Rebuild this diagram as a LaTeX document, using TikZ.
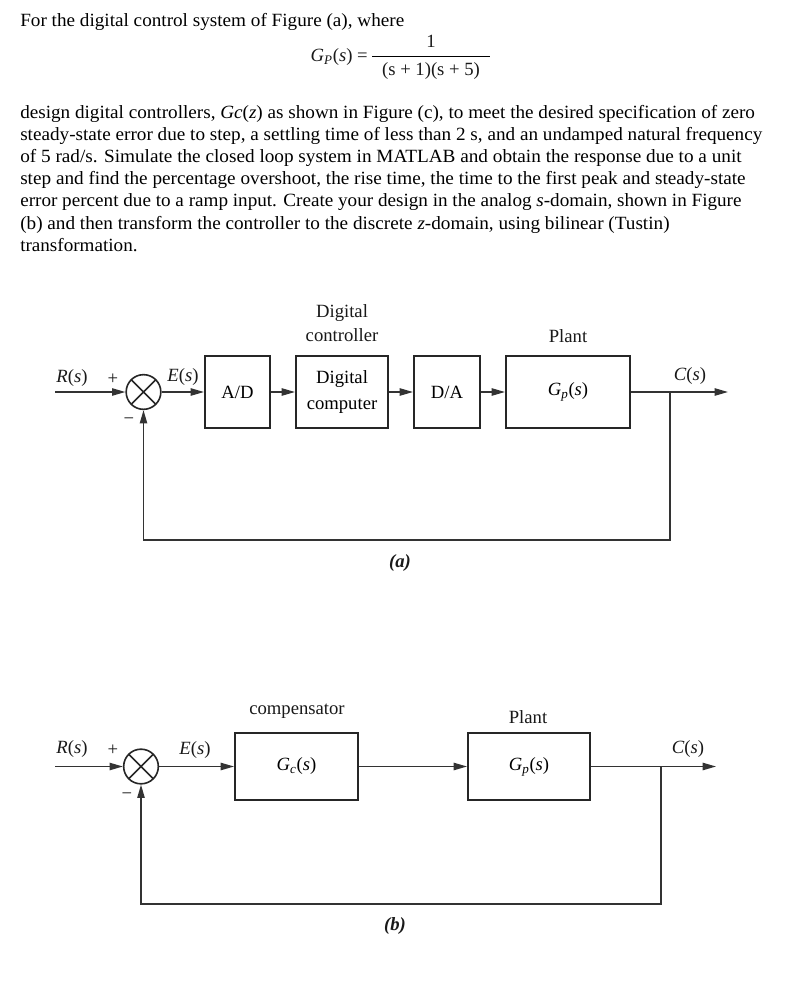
\documentclass[tikz,border=0pt]{standalone}
\usepackage{fontspec}
\setmainfont{Liberation Serif}
\usepackage{graphicx}
\usetikzlibrary{arrows.meta}
\newcommand\fitto[2]{\resizebox{#1}{\height}{#2}}
\begin{document}
\begin{tikzpicture}[x=0.75pt,y=-0.75pt,
 blk/.style={draw=black!85, line width=1.5pt, inner sep=0pt, font=\fontsize{14}{19}\selectfont, align=center},
 ln/.style={draw=black!80, line width=1.1pt},
 arr/.style={ln, -{Triangle[length=10pt,width=5.5pt]}},
 sumj/.style={circle, draw=black!85, line width=1.2pt, minimum size=26pt, inner sep=0pt,
   path picture={\draw[line width=1.2pt, black!85] (path picture bounding box.south west)--(path picture bounding box.north east) (path picture bounding box.north west)--(path picture bounding box.south east);}},
 lbl/.style={font=\fontsize{14}{16}\selectfont, inner sep=0pt, text=black!90},
 txt/.style={font=\fontsize{14}{16}\selectfont, inner sep=0pt, anchor=base west}]
\useasboundingbox[fill=white] (0,0) rectangle (808,984);

% ---------- problem text ----------
\node[txt] (t0) at (20,27) {\fitto{288pt}{For the digital control system of Figure (a), where}};
\node[lbl, anchor=east] (gp) at (368,57) {\textit{G}\textsubscript{\textit{P}}(\textit{s}) =};
\node[lbl] (num) at (431,41) {1};
\node[lbl] (den) at (431,71) {(s + 1)(s + 5)};
\draw[line width=0.6pt] (372,56) -- (490,56);
\node[txt] (t1) at (20,119) {\fitto{551pt}{design digital controllers, \textit{Gc}(\textit{z}) as shown in Figure (c), to meet the desired specification of zero}};
\node[txt] (t2) at (20,141) {\fitto{556.5pt}{steady-state error due to step, a settling time of less than 2 s, and an undamped natural frequency}};
\node[txt] (t3) at (20,163) {\fitto{541pt}{of 5 rad/s. Simulate the closed loop system in MATLAB and obtain the response due to a unit}};
\node[txt] (t4) at (20,185) {\fitto{544pt}{step and find the percentage overshoot, the rise time, the time to the first peak and steady-state}};
\node[txt] (t5) at (20,207) {\fitto{541pt}{error percent due to a ramp input. Create your design in the analog \textit{s}-domain, shown in Figure}};
\node[txt] (t6) at (20,229) {\fitto{487pt}{(b) and then transform the controller to the discrete \textit{z}-domain, using bilinear (Tustin)}};
\node[txt] (t7) at (20,251) {\fitto{88pt}{transformation.}};

% ---------- figure (a) ----------
\node[sumj] (s1) at (143.5,392) {};
\node[blk, minimum width=48.75pt, minimum height=54pt] (ad) at (237.5,392) {A/D};
\node[blk, minimum width=69pt, minimum height=54pt] (dc) at (342,392) {Digital\\computer};
\node[blk, minimum width=49.5pt, minimum height=54pt] (da) at (447,392) {D/A};
\node[blk, minimum width=93pt, minimum height=54pt] (pl) at (568,392) {\textit{G}\textsubscript{\textit{p}}(\textit{s})};
\coordinate (rin) at (55,392);
\coordinate (br) at (670,392);
\coordinate (out) at (728,392);
\coordinate (fb1) at (670,540);
\coordinate (fb2) at (143.5,540);
\draw[arr] (rin) -- (s1.west);
\draw[arr] (s1.east) -- (ad.west);
\draw[arr] (ad.east) -- (dc.west);
\draw[arr] (dc.east) -- (da.west);
\draw[arr] (da.east) -- (pl.west);
\draw[arr] (pl.east) -- (out);
\draw[arr] (br) -- (fb1) -- (fb2) -- (s1.south);
\node[lbl] (ra) at (72,378) {\textit{R}(\textit{s})};
\node[lbl] (pa) at (113,379) {+};
\node[lbl] (ma) at (129,421) {−};
\node[lbl] (ea) at (183,377) {\textit{E}(\textit{s})};
\node[lbl] (ca) at (690,376) {\textit{C}(\textit{s})};
\node[lbl, align=center, font=\fontsize{14}{18}\selectfont] (dcl) at (342,323) {Digital\\controller};
\node[lbl] (pla) at (568,336) {Plant};
\node[lbl] (capa) at (400,563) {\textbf{\textit{(a)}}};

% ---------- figure (b) ----------
\node[sumj] (s2) at (141,766.5) {};
\node[blk, minimum width=92.25pt, minimum height=50.25pt] (gc) at (296.5,766.5) {\textit{G}\textsubscript{\textit{c}}(\textit{s})};
\node[blk, minimum width=91.5pt, minimum height=50.25pt] (pl2) at (529,766.5) {\textit{G}\textsubscript{\textit{p}}(\textit{s})};
\coordinate (rin2) at (55,766.5);
\coordinate (br2) at (661,766.5);
\coordinate (out2) at (716,766.5);
\coordinate (fb3) at (661,904);
\coordinate (fb4) at (141,904);
\draw[arr] (rin2) -- (s2.west);
\draw[arr] (s2.east) -- (gc.west);
\draw[arr] (gc.east) -- (pl2.west);
\draw[arr] (pl2.east) -- (out2);
\draw[arr] (br2) -- (fb3) -- (fb4) -- (s2.south);
\node[lbl] (rb) at (72,749) {\textit{R}(\textit{s})};
\node[lbl] (pb) at (113,750) {+};
\node[lbl] (mb) at (127,796) {−};
\node[lbl] (eb) at (195,750) {\textit{E}(\textit{s})};
\node[lbl] (cb) at (688,749) {\textit{C}(\textit{s})};
\node[lbl] (cmp) at (297,711) {compensator};
\node[lbl] (plb) at (528,717) {Plant};
\node[lbl] (capb) at (395,926) {\textbf{\textit{(b)}}};
\end{tikzpicture}
\end{document}
